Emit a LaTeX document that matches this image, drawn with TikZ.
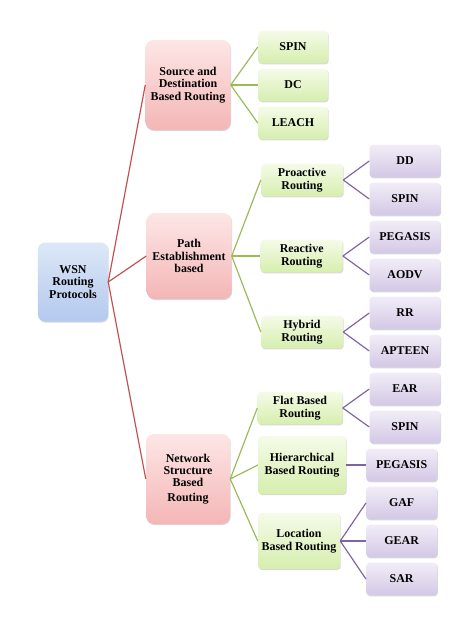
\documentclass[tikz,border=0pt]{standalone}
\usepackage{fontspec}
\setmainfont{Liberation Serif}
\usepackage{xcolor}
\usepackage{tikz}
\usetikzlibrary{shapes.geometric, shadows}
\definecolor{rootTop}{HTML}{DDE7F7}
\definecolor{rootBot}{HTML}{B3C9EE}
\definecolor{pinkTop}{HTML}{FDE6E6}
\definecolor{pinkBot}{HTML}{F4B6B6}
\definecolor{greenTop}{HTML}{F5FBE8}
\definecolor{greenBot}{HTML}{D6EEAE}
\definecolor{purpTop}{HTML}{F1EDF7}
\definecolor{purpBot}{HTML}{D4C8E6}
\definecolor{redLn}{HTML}{C0504D}
\definecolor{greenLn}{HTML}{9BBB59}
\definecolor{purpLn}{HTML}{8064A2}
\tikzstyle{box} = [rectangle, text centered, align=center, inner sep=1pt, font=\fontsize{10.2}{10.6}\selectfont\bfseries, drop shadow={shadow xshift=0.6pt, shadow yshift=-0.9pt, opacity=0.3}]
\tikzstyle{rootbox} = [box, rounded corners=6pt, minimum width=2.1cm, minimum height=2.37cm, top color=rootTop, bottom color=rootBot]
\tikzstyle{classbox} = [box, rounded corners=7pt, minimum width=2.55cm, minimum height=2.7cm, top color=pinkTop, bottom color=pinkBot]
\tikzstyle{typebox} = [box, rounded corners=3pt, minimum width=2.46cm, minimum height=0.98cm, top color=greenTop, bottom color=greenBot]
\tikzstyle{protobox} = [box, rounded corners=3pt, minimum width=2.13cm, minimum height=0.98cm, top color=purpTop, bottom color=purpBot]
\tikzstyle{redline} = [draw=redLn, line width=1pt]
\tikzstyle{greenline} = [draw=greenLn, line width=1pt]
\tikzstyle{purpline} = [draw=purpLn, line width=1pt]

\begin{document}
\begin{tikzpicture}[node distance=1.14cm]

      \useasboundingbox (0,0) rectangle (14.22,-18.96);

      % Protocols (right column)
      \node (dd) [protobox] at (12.15,-4.83) {DD};
      \node (spinb) [protobox, below of=dd] {SPIN};
      \node (pegasisa) [protobox, below of=spinb] {PEGASIS};
      \node (aodv) [protobox, below of=pegasisa] {AODV};
      \node (rr) [protobox, below of=aodv] {RR};
      \node (apteen) [protobox, below of=rr] {APTEEN};
      \node (ear) [protobox, below of=apteen] {EAR};
      \node (spinc) [protobox, below of=ear] {SPIN};
      \node (pegasisb) [protobox, below of=spinc, xshift=-0.1cm] {PEGASIS};
      \node (gaf) [protobox, below of=pegasisb] {GAF};
      \node (gear) [protobox, below of=gaf] {GEAR};
      \node (sar) [protobox, below of=gear] {SAR};

      % Routing types (middle column)
      \node (proact) [typebox, left of=dd, xshift=-1.95cm, yshift=-0.57cm] {Proactive\\Routing};
      \node (react) [typebox, left of=pegasisa, xshift=-1.96cm, yshift=-0.57cm] {Reactive\\Routing};
      \node (hybrid) [typebox, left of=rr, xshift=-1.95cm, yshift=-0.57cm] {Hybrid\\Routing};
      \node (flat) [typebox, minimum width=2.55cm, left of=ear, xshift=-2.01cm, yshift=-0.57cm] {Flat Based\\Routing};
      \node (hier) [typebox, minimum width=2.64cm, minimum height=1.74cm, left of=pegasisb, xshift=-1.85cm] {Hierarchical\\Based Routing};
      \node (loc) [typebox, minimum height=1.68cm, left of=gear, xshift=-1.94cm] {Location\\Based Routing};

      \node (dc) [typebox, minimum width=2.1cm, above of=proact, xshift=-0.27cm, yshift=1.71cm] {DC};
      \node (spina) [typebox, minimum width=2.1cm, above of=dc] {SPIN};
      \node (leach) [typebox, minimum width=2.1cm, below of=dc] {LEACH};

      % Classes
      \node (srcdst) [classbox, left of=dc, xshift=-2.01cm] {Source and\\Destination\\Based Routing};
      \node (path) [classbox, minimum height=2.58cm, left of=react, xshift=-2.24cm] {Path\\Establishment\\based};
      \node (netstr) [classbox, minimum width=2.52cm, left of=hier, xshift=-2.28cm, yshift=-0.42cm] {Network\\Structure\\Based\\[2pt]Routing};

      % Root
      \node (root) [rootbox, left of=path, xshift=-2.34cm, yshift=-0.78cm] {WSN\\Routing\\Protocols};

      % Lines
      \draw [redline] (root.east) -- (srcdst.west);
      \draw [redline] (root.east) -- (path.west);
      \draw [redline] (root.east) -- (netstr.west);

      \draw [greenline] (srcdst.east) -- (spina.west);
      \draw [greenline] (srcdst.east) -- (dc.west);
      \draw [greenline] (srcdst.east) -- (leach.west);
      \draw [greenline] (path.east) -- (proact.west);
      \draw [greenline] (path.east) -- (react.west);
      \draw [greenline] (path.east) -- (hybrid.west);
      \draw [greenline] (netstr.east) -- (flat.west);
      \draw [greenline] (netstr.east) -- (hier.west);
      \draw [greenline] (netstr.east) -- (loc.west);

      \draw [purpline] (proact.east) -- (dd.west);
      \draw [purpline] (proact.east) -- (spinb.west);
      \draw [purpline] (react.east) -- (pegasisa.west);
      \draw [purpline] (react.east) -- (aodv.west);
      \draw [purpline] (hybrid.east) -- (rr.west);
      \draw [purpline] (hybrid.east) -- (apteen.west);
      \draw [purpline] (flat.east) -- (ear.west);
      \draw [purpline] (flat.east) -- (spinc.west);
      \draw [purpline] (hier.east) -- (pegasisb.west);
      \draw [purpline] (loc.east) -- (gaf.west);
      \draw [purpline] (loc.east) -- (gear.west);
      \draw [purpline] (loc.east) -- (sar.west);

\end{tikzpicture}
\end{document}
